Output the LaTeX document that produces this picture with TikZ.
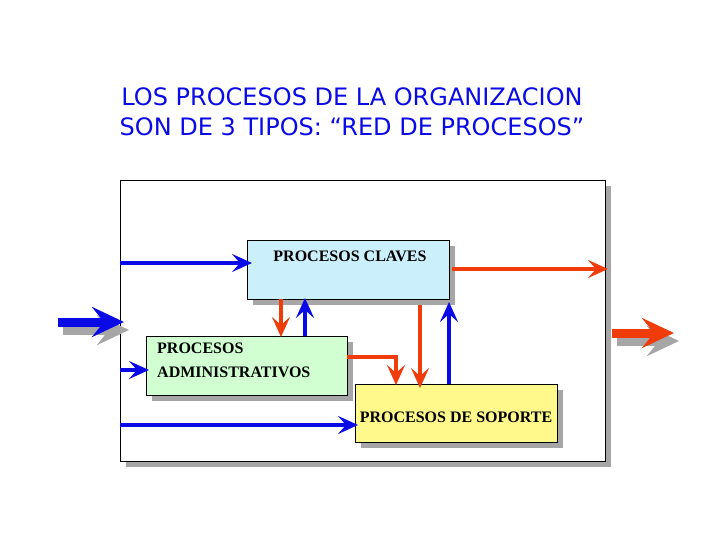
\documentclass[tikz,border=0pt]{standalone}
\usepackage{fontspec}
\setmainfont{Liberation Serif}
\newfontfamily\titlefont{DejaVu Sans}
\usetikzlibrary{arrows.meta}
\definecolor{myblue}{RGB}{10,10,230}
\definecolor{myred}{RGB}{240,60,10}
\tikzset{
  bl/.style={draw=myblue, line width=4pt, -{Stealth[length=20pt,width=18pt,inset=8pt]}},
  rd/.style={draw=myred, line width=4pt, -{Stealth[length=20pt,width=18pt,inset=8pt]}},
  lbl/.style={font=\bfseries\fontsize{16}{18}\selectfont, inner sep=0pt, align=left}
}
\begin{document}
\begin{tikzpicture}[x=1pt,y=-1pt]
\useasboundingbox (0,0) rectangle (720,540);
% title
\node (title) [font=\titlefont\fontsize{24}{30}\selectfont, text=myblue, align=center] at (352,112) {LOS PROCESOS DE LA ORGANIZACION\\SON DE 3 TIPOS: “RED DE PROCESOS”};
% outer frame
\fill[gray!70] (126,186) rectangle (611,467);
\draw[fill=white, line width=0.8pt] (120,180) rectangle (605,461);
% boxes with shadows
\fill[gray!70] (253,246) rectangle (455,305);
\draw[fill=cyan!20, line width=0.8pt] (247,240) rectangle (449,299);
\node (clav) [lbl] at (350,256) {PROCESOS CLAVES};
\fill[gray!70] (152,342) rectangle (353,401);
\draw[fill=green!18, line width=0.8pt] (146,336) rectangle (347,395);
\node (adm) [lbl, anchor=west] at (157,360) {PROCESOS\\[6pt]ADMINISTRATIVOS};
\fill[gray!70] (361,390) rectangle (563,448);
\draw[fill=yellow!45, line width=0.8pt] (355,384) rectangle (557,442);
\node (sop) [lbl] at (456,417) {PROCESOS DE SOPORTE};
% coordinates
\coordinate (a1) at (120,263); \coordinate (a2) at (252,263);
\coordinate (b1) at (452,269); \coordinate (b2) at (608,269);
\coordinate (c1) at (120,370); \coordinate (c2) at (149,370);
\coordinate (d1) at (120,425); \coordinate (d2) at (358,425);
\coordinate (e1) at (281,299); \coordinate (e2) at (281,337);
\coordinate (f1) at (305,336); \coordinate (f2) at (305,298);
\coordinate (g1) at (347,357); \coordinate (g2) at (396,357); \coordinate (g3) at (396,385);
\coordinate (h1) at (420,305); \coordinate (h2) at (420,388);
\coordinate (i1) at (449,384); \coordinate (i2) at (449,302);
\draw[bl] (a1) -- (a2);
\draw[rd] (b1) -- (b2);
\draw[bl] (c1) -- (c2);
\draw[bl] (d1) -- (d2);
\draw[rd] (e1) -- (e2);
\draw[bl] (f1) -- (f2);
\draw[rd] (g1) -- (g2) -- (g3);
\draw[rd] (h1) -- (h2);
\draw[bl] (i1) -- (i2);
% big arrows
\coordinate (L1) at (58,322); \coordinate (L2) at (124,322);
\coordinate (R1) at (612,333); \coordinate (R2) at (674,333);
\draw[draw=gray!70, line width=9pt, -{Stealth[length=32pt,width=30pt,inset=12pt]}] ([shift={(5,8)}]L1) -- ([shift={(5,8)}]L2);
\draw[draw=myblue, line width=9pt, -{Stealth[length=32pt,width=30pt,inset=12pt]}] (L1) -- (L2);
\draw[draw=gray!70, line width=9pt, -{Stealth[length=32pt,width=30pt,inset=12pt]}] ([shift={(5,8)}]R1) -- ([shift={(5,8)}]R2);
\draw[draw=myred, line width=9pt, -{Stealth[length=32pt,width=30pt,inset=12pt]}] (R1) -- (R2);
\end{tikzpicture}
\end{document}
